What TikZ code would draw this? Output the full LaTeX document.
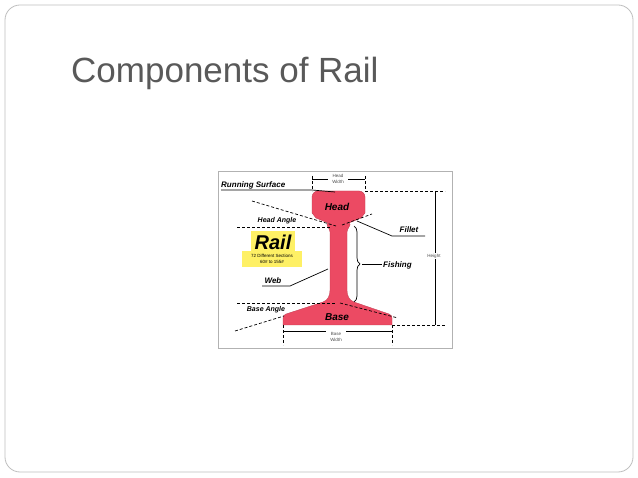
\documentclass[tikz,border=0pt]{standalone}
\usepackage{fontspec}
\setmainfont{Liberation Sans}
\usetikzlibrary{decorations.pathreplacing}
\definecolor{railpink}{HTML}{EC4A63}
\definecolor{titlegray}{HTML}{595959}
\tikzset{
  lbl/.style={font=\bfseries\itshape\fontsize{8}{9}\selectfont, inner sep=0pt},
  tiny/.style={font=\fontsize{4.5}{5}\selectfont, inner sep=0pt, text=black!70},
  ext/.style={dashed, line width=0.7pt, dash pattern=on 3pt off 2pt},
  ln/.style={line width=0.7pt},
}
\begin{document}
\begin{tikzpicture}[x=1pt,y=-1pt]
\useasboundingbox (0,0) rectangle (638,478);
\fill[white] (0,0) rectangle (638,478);
\draw[black!25, line width=0.8pt, rounded corners=15pt] (5,5) rectangle (633,472);
\node[anchor=west, text=titlegray, font=\fontsize{35}{40}\selectfont, inner sep=0pt] (title) at (71,73) {Components of Rail};
% picture frame
\draw[black!30, line width=0.6pt] (218,171) rectangle (452,348);
% rail
\fill[railpink, draw=railpink!80!black, line width=0.3pt]
 (318,191) -- (359,191) to[out=0,in=90] (365,197) -- (365,213) -- (361,218) -- (349,223)
 to[out=-20,in=90] (347,232) -- (347,290) to[out=-90,in=160] (354,302) -- (389,314)
 to[out=-20,in=90] (392,318) -- (392,325) -- (283,325) -- (283,318) to[out=90,in=200] (286,314)
 -- (323,302) to[out=20,in=-90] (330,290) -- (330,232) to[out=90,in=200] (328,223)
 -- (316,218) -- (312,213) -- (312,197) to[out=90,in=180] (318,191) -- cycle;
\node[lbl, font=\bfseries\itshape\fontsize{10}{11}\selectfont] (head) at (337,207) {Head};
\node[lbl, font=\bfseries\itshape\fontsize{10}{11}\selectfont] (base) at (337,317) {Base};
% head width
\node[tiny] (hw1) at (338,175.5) {Head};
\node[tiny] (hw2) at (338,182) {Width};
\draw[ext, line width=0.5pt] (312,176) -- (312,191);
\draw[ext, line width=0.5pt] (365,176) -- (365,191);
\draw[ln, line width=0.5pt] (312,179) -- (328,179) (348,179) -- (365,179);
% running surface
\node[lbl, anchor=west] (rs) at (221,185) {Running Surface};
\draw[ln] (221,190) -- (312,190) -- (335,192);
% height
\draw[ext] (365,191) -- (445,191);
\draw[ext] (392,325) -- (445,325);
\draw[ln] (435,191) -- (435,325);
\node[tiny, fill=white, inner sep=1pt] (ht) at (434,256) {Height};
% head angle
\draw[ext] (252,201) -- (336,226);
\draw[ext] (342,225) -- (372,214);
\draw[ext] (237,227) -- (330,227);
\node[lbl, font=\bfseries\itshape\fontsize{7}{8}\selectfont] (ha) at (277,221) {Head Angle};
% fillet
\node[lbl] (fillet) at (409,230) {Fillet};
\draw[ln] (425,236) -- (392,236) -- (357,221);
% fishing
\draw[ln, decorate, decoration={brace, amplitude=6pt}] (354,226) -- (354,302);
\draw[ln] (362,264) -- (382,264);
\node[lbl, anchor=west] (fish) at (383,265) {Fishing};
% rail highlight
\fill[yellow!90!orange!60] (251,231) rectangle (295,251);
\fill[yellow!90!orange!60] (242,251) rectangle (302,267);
\node[font=\bfseries\itshape\fontsize{20}{22}\selectfont, inner sep=0pt] (rail) at (273,242) {Rail};
\node[tiny, text=black] (sec) at (272,256) {72 Different Sections};
\node[tiny, text=black] (rng) at (272,262) {60\# to 155\#};
% web
\node[lbl] (web) at (273,281) {Web};
\draw[ln] (262,286) -- (290,286) -- (328,269);
% base angle
\draw[ext] (237,303) -- (335,303);
\node[lbl, font=\bfseries\itshape\fontsize{7}{8}\selectfont] (ba) at (266,310) {Base Angle};
\draw[ext] (235,331) -- (284,316);
\draw[ext] (340,303) -- (398,318);
% base width
\draw[ext, line width=0.5pt] (283,325) -- (283,345);
\draw[ext, line width=0.5pt] (392,325) -- (392,345);
\draw[ln, line width=0.5pt] (283,331) -- (326,331) (346,331) -- (392,331);
\node[tiny] (bw1) at (336,334) {Base};
\node[tiny] (bw2) at (336,340) {Width};
\end{tikzpicture}
\end{document}
